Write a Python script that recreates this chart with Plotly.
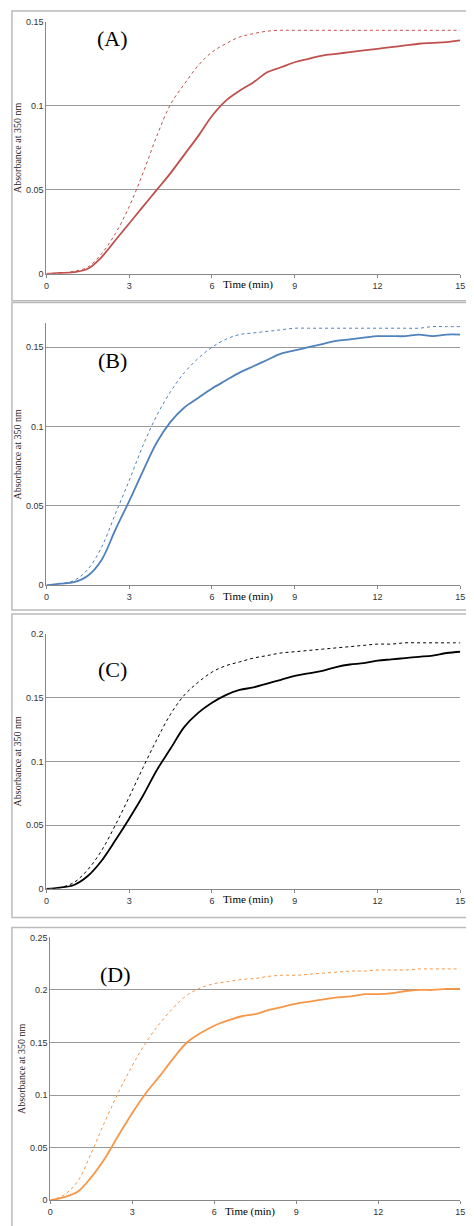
import plotly.graph_objects as go
from plotly.subplots import make_subplots

# time points (min), every 0.5 min
time_min = [i * 0.5 for i in range(31)]

a_solid = [0, 0.0005, 0.001, 0.003, 0.01, 0.02, 0.03, 0.04, 0.05, 0.06, 0.071, 0.082, 0.094, 0.103, 0.109, 0.114, 0.12,
           0.123, 0.126, 0.128, 0.13, 0.131, 0.132, 0.133, 0.134, 0.135, 0.136, 0.137, 0.1375, 0.138, 0.139]
a_dotted = [0, 0.0005, 0.0015, 0.004, 0.012, 0.024, 0.04, 0.06, 0.082, 0.101, 0.113, 0.124, 0.132, 0.137, 0.141, 0.143,
            0.1445, 0.145, 0.145, 0.145, 0.145, 0.145, 0.145, 0.145, 0.145, 0.145, 0.145, 0.145, 0.145, 0.145, 0.145]
b_solid = [0, 0.001, 0.002, 0.006, 0.016, 0.035, 0.053, 0.072, 0.09, 0.103, 0.112, 0.118, 0.124, 0.129, 0.134, 0.138,
           0.142, 0.146, 0.148, 0.15, 0.152, 0.154, 0.155, 0.156, 0.157, 0.157, 0.157, 0.158, 0.157, 0.158, 0.158]
b_dotted = [0, 0.001, 0.003, 0.01, 0.024, 0.045, 0.066, 0.088, 0.107, 0.122, 0.134, 0.143, 0.15, 0.155, 0.158, 0.159,
            0.16, 0.161, 0.162, 0.162, 0.162, 0.162, 0.162, 0.162, 0.162, 0.162, 0.162, 0.162, 0.163, 0.163, 0.163]
c_solid = [0, 0.001, 0.003, 0.01, 0.022, 0.038, 0.055, 0.073, 0.093, 0.11, 0.127, 0.138, 0.146, 0.152, 0.156, 0.158,
           0.161, 0.164, 0.167, 0.169, 0.171, 0.174, 0.176, 0.177, 0.179, 0.18, 0.181, 0.182, 0.183, 0.185, 0.186]
c_dotted = [0, 0.001, 0.005, 0.015, 0.03, 0.05, 0.072, 0.095, 0.117, 0.137, 0.152, 0.162, 0.17, 0.175, 0.178, 0.181,
            0.183, 0.185, 0.186, 0.187, 0.188, 0.189, 0.19, 0.191, 0.192, 0.192, 0.193, 0.193, 0.193, 0.193, 0.193]
d_solid = [0, 0.003, 0.008, 0.022, 0.04, 0.062, 0.083, 0.102, 0.118, 0.135, 0.15, 0.159, 0.166, 0.171, 0.175, 0.177,
           0.181, 0.184, 0.187, 0.189, 0.191, 0.193, 0.194, 0.196, 0.196, 0.197, 0.199, 0.2, 0.2, 0.201, 0.201]
d_dotted = [0, 0.005, 0.018, 0.045, 0.075, 0.103, 0.128, 0.15, 0.168, 0.183, 0.195, 0.202, 0.206, 0.208, 0.21, 0.211,
            0.213, 0.214, 0.214, 0.215, 0.216, 0.217, 0.218, 0.218, 0.219, 0.219, 0.219, 0.22, 0.22, 0.22, 0.22]

panels = [
    # label, solid, dotted, colour, ymax
    ('(A)', a_solid, a_dotted, '#C0504D', 0.15),
    ('(B)', b_solid, b_dotted, '#4F81BD', 0.165),
    ('(C)', c_solid, c_dotted, '#000000', 0.2),
    ('(D)', d_solid, d_dotted, '#F79646', 0.25),
]
# plot areas in pixels (top, bottom, left) and panel frames (top, bottom)
W, H = 474, 1226
plot_px = [(9, 263, 36), (313, 577, 36), (626, 883, 36), (932, 1197, 40)]
frame_px = [(-2, 290), (292, 602), (606, 912), (922, 1228)]

fig = make_subplots(rows=4, cols=1)

for i, (label, solid, dotted, color, ymax) in enumerate(panels):
    r = i + 1
    fig.add_trace(go.Scatter(x=time_min, y=dotted, mode='lines', line=dict(color=color, width=1, dash='dot', shape='spline')), row=r, col=1)
    fig.add_trace(go.Scatter(x=time_min, y=solid, mode='lines', line=dict(color=color, width=1.8, shape='spline')), row=r, col=1)
    top, bot, left = plot_px[i]
    fig.update_xaxes(domain=[left / W, 457 / W], range=[0, 15], tickvals=[0, 3, 6, 9, 12, 15],
                     showline=True, linecolor='#888', ticks='outside', ticklen=3, tickcolor='#888',
                     showgrid=False, zeroline=False, tickfont=dict(size=9, color='#333'), row=r, col=1)
    fig.update_yaxes(domain=[1 - bot / H, 1 - top / H], range=[0, ymax], dtick=0.05,
                     showline=True, linecolor='#888', showgrid=True, gridcolor='#999', zeroline=False,
                     tickfont=dict(size=9, color='#333'), row=r, col=1,
                     title=dict(text='Absorbance at 350 nm', font=dict(family='Liberation Serif', size=10, color='#222'), standoff=2))
    xa = 'x' if r == 1 else f'x{r}'
    ya = 'y' if r == 1 else f'y{r}'
    fig.add_annotation(x=2.4, y=ymax * 0.86 if r > 1 else 0.14, xref=xa, yref=ya, text=label, showarrow=False,
                       font=dict(family='Liberation Serif', size=22, color='#000'))
    fig.add_annotation(x=7.3, y=0, xref=xa, yref=ya, yshift=-11, text='Time (min)', showarrow=False,
                       font=dict(family='Liberation Serif', size=11, color='#000'))
    ft, fb = frame_px[i]
    fig.add_shape(type='rect', xref='paper', yref='paper', x0=0.002, x1=0.998, y0=1 - fb / H, y1=1 - ft / H,
                  line=dict(color='#bbb', width=1.5))

fig.update_layout(width=W, height=H, margin=dict(l=0, r=0, t=0, b=0), showlegend=False,
                  plot_bgcolor='white', paper_bgcolor='white', font=dict(family='Liberation Sans'))
fig.write_html("out.html")
